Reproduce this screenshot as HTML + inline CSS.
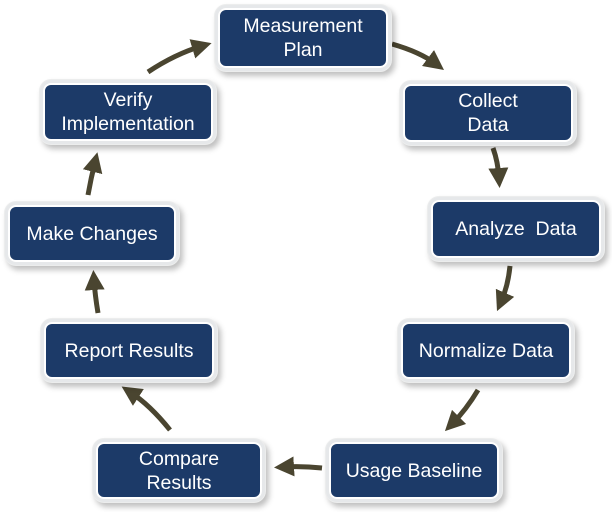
<!DOCTYPE html>
<html><head><style>
body{margin:0;background:#fff;width:612px;height:512px;overflow:hidden;position:relative;font-family:"Liberation Sans",sans-serif}
.b{position:absolute;box-sizing:border-box;background:#1c3a68;border:2px solid #fff;outline:3px solid #e6e8ea;border-radius:8px;box-shadow:0 0 0 4px #eceded,3px 4px 6px 4px rgba(0,0,0,.25);color:#fff;font-size:19.5px;line-height:24px;display:flex;align-items:center;justify-content:center;text-align:center}
</style></head><body>
<svg width="612" height="512" style="position:absolute;left:0;top:0">
<defs><marker id="a" markerWidth="4" markerHeight="4" refX="2" refY="2" orient="auto" markerUnits="strokeWidth"><path d="M0,0 L4,2 L0,4 Z" fill="#4a4530"/></marker></defs>
<g stroke="#4a4530" stroke-width="5" fill="none" marker-end="url(#a)">
<path d="M392,44 Q420,52 436,64"/>
<path d="M493,148 Q498,162 499,178"/>
<path d="M510,266 Q508,286 501,302"/>
<path d="M478,390 Q466,410 452,424"/>
<path d="M322,468 Q302,466 284,467"/>
<path d="M170,430 Q150,405 130,392"/>
<path d="M98,313 Q95,295 94,280"/>
<path d="M88,195 Q91,178 95,162"/>
<path d="M148,72 Q175,54 202,46"/>
</g></svg>
<div class="b" style="left:218px;top:8px;width:170px;height:60px">Measurement<br>Plan</div>
<div class="b" style="left:403px;top:84px;width:170px;height:58px">Collect<br>Data</div>
<div class="b" style="left:431px;top:200px;width:170px;height:58px">Analyze&nbsp; Data</div>
<div class="b" style="left:401px;top:322px;width:170px;height:57px">Normalize Data</div>
<div class="b" style="left:329px;top:442px;width:170px;height:57px">Usage Baseline</div>
<div class="b" style="left:96px;top:442px;width:166px;height:57px">Compare<br>Results</div>
<div class="b" style="left:44px;top:322px;width:170px;height:57px">Report Results</div>
<div class="b" style="left:8px;top:205px;width:168px;height:57px">Make Changes</div>
<div class="b" style="left:43px;top:83px;width:170px;height:58px">Verify<br>Implementation</div>
</body></html>
